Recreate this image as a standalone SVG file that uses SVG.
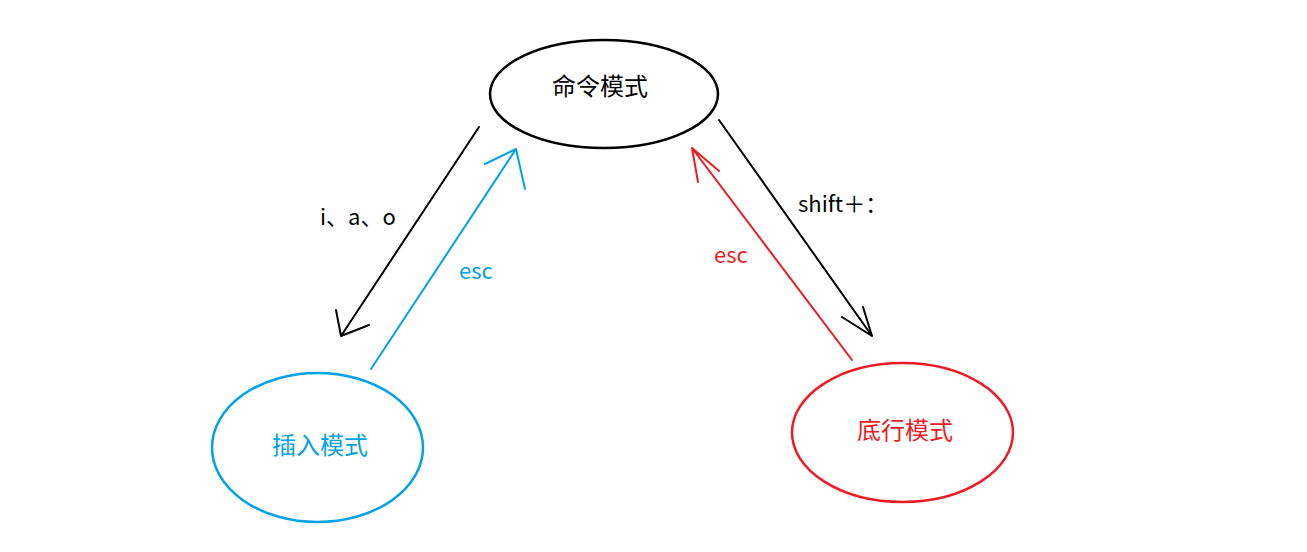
<svg xmlns="http://www.w3.org/2000/svg" width="1307" height="552" viewBox="0 0 1307 552">
<style>
text{font-family:"Noto Sans CJK SC","Liberation Sans",sans-serif;font-size:22px}
.t{font-size:24px}
.n{fill:none;stroke-width:2.5}
.c{fill:none;stroke-width:2;stroke-linecap:round;stroke-linejoin:round}
.k{stroke:#000}.b{stroke:#00a2e8}.r{stroke:#ed1c24}
</style>
<rect width="1307" height="552" fill="#fff"/>
<g id="cmd"><ellipse class="n k" cx="604" cy="94" rx="114" ry="54"/><text class="t" x="600" y="95" text-anchor="middle">命令模式</text></g>
<g id="insert"><ellipse class="n b" cx="317.5" cy="447.5" rx="105.5" ry="74.5"/><text class="t" x="320" y="454" text-anchor="middle" fill="#00a2e8">插入模式</text></g>
<g id="bottom"><ellipse class="n r" cx="902.5" cy="432.5" rx="110.5" ry="69.5"/><text class="t" x="905" y="439" text-anchor="middle" fill="#ed1c24">底行模式</text></g>
<g id="connectors">
<path class="c k" d="M479 127L341 336M336 310L341 336L369 325"/>
<path class="c b" d="M371 369L516 149M485 164L516 149L525 189"/>
<path class="c k" d="M719 120L872 336M842 317L872 336L863 307"/>
<path class="c r" d="M852 360L692 148M719 171L692 148L698 182"/>
<text x="320" y="225">i、a、o</text>
<text x="459" y="279" fill="#00a2e8">esc</text>
<text x="798" y="212">shift＋：</text>
<text x="714" y="263" fill="#ed1c24">esc</text>
</g>
</svg>
